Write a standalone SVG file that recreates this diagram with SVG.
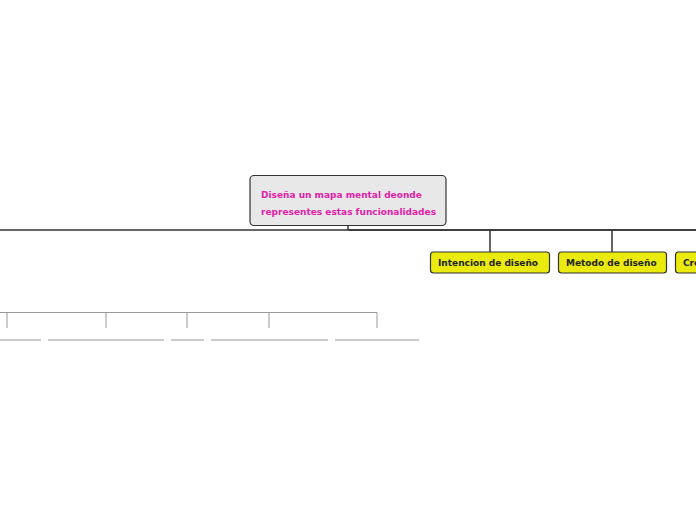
<svg xmlns="http://www.w3.org/2000/svg" width="696" height="520" viewBox="0 0 696 520">
<style>
.n{fill:#eaea0d;stroke:#333;stroke-width:1.2}
.t{font-family:Verdana,"DejaVu Sans",sans-serif;font-size:9px;font-weight:bold;fill:#222}
.c{fill:none;stroke:#333;stroke-width:1.5}
.g{fill:none;stroke:#999;stroke-width:1}
</style>
<g id="connectors">
<path class="c" d="M0 230 H696"/>
<path class="c" d="M348 225 V230"/>
<path class="c" d="M490 230 V252 M612 230 V252 M348 230 H696"/>
<path class="g" d="M0 312.5 H377 M7 312.5 V328 M106 312.5 V328 M187 312.5 V328 M269 312.5 V328 M377 312.5 V328"/>
<path class="g" d="M0 340 H41 M48 340 H164 M171 340 H204 M211 340 H328 M335 340 H419"/>
</g>
<g id="root">
<rect x="250" y="175.5" width="196" height="50" rx="4" fill="#e8e8e8" stroke="#333" stroke-width="1.2"/>
<text class="t" x="261" y="198" fill="#e0169e" style="fill:#e020a8">Diseña un mapa mental deonde</text>
<text class="t" x="261" y="215" style="fill:#e020a8">representes estas funcionalidades</text>
</g>
<g id="n1"><rect class="n" x="430.5" y="252" width="119" height="21" rx="3"/><text class="t" x="438" y="266">Intencion de diseño</text></g>
<g id="n2"><rect class="n" x="558.5" y="252" width="108" height="21" rx="3"/><text class="t" x="566" y="266">Metodo de diseño</text></g>
<g id="n3"><rect class="n" x="675.5" y="252" width="40" height="21" rx="3"/><text class="t" x="683" y="266">Cre</text></g>
</svg>
